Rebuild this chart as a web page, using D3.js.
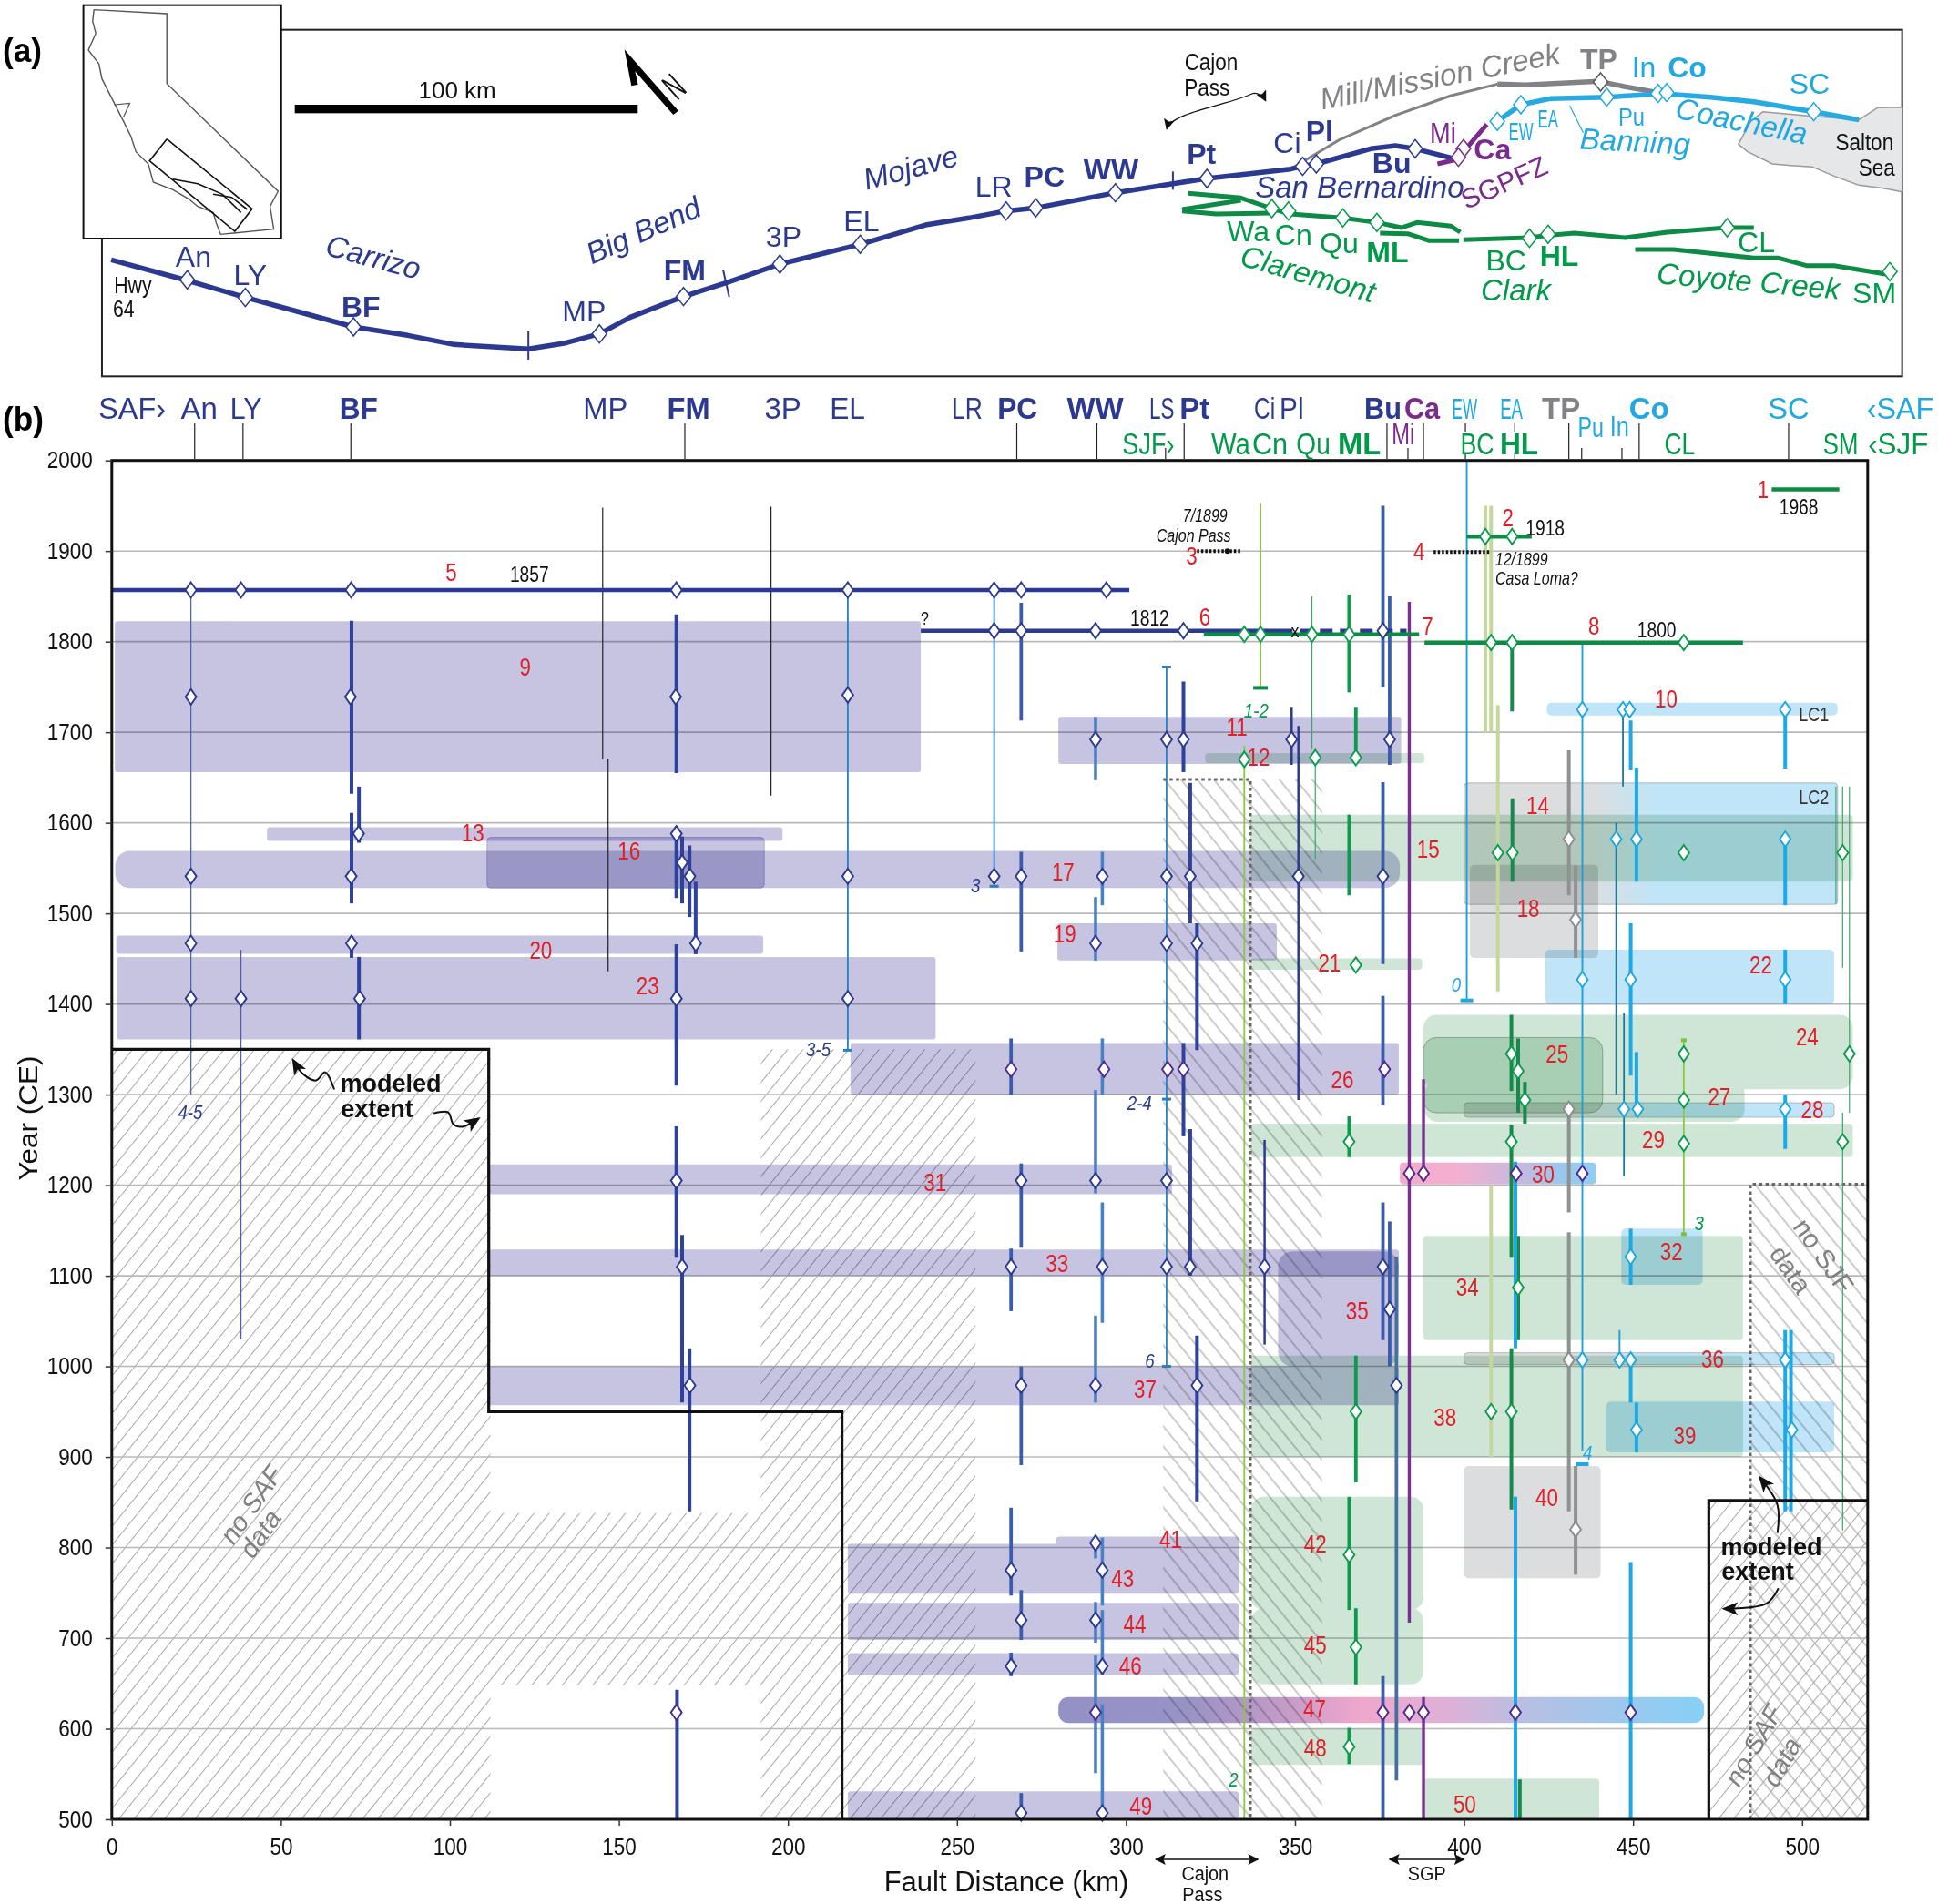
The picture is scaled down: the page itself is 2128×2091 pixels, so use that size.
<!DOCTYPE html>
<html><head><meta charset="utf-8">
<script src="https://cdnjs.cloudflare.com/ajax/libs/d3/7.8.5/d3.min.js"></script>
<style>html,body{margin:0;padding:0;background:#fff}svg{display:block}text{font-family:"Liberation Sans",Arial,sans-serif}</style>
</head><body><div id="c"></div>
<script>
// ---------- DATA (km along fault, calendar year) ----------
const yearTicks=[2000,1900,1800,1700,1600,1500,1400,1300,1200,1100,1000,900,800,700,600,500];
const kmTicks=[0,50,100,150,200,250,300,350,400,450,500];
// zones [kmStart, kmEnd, yearTop, yearBottom]
const safZones=[[0.9,239.3,1822.6,1656],[45.9,198.4,1595,1580],[1.3,192.7,1475.6,1455.5],[1.5,243.7,1452,1361],[218.5,380.7,1357,1300],[111.5,313.6,1223,1190],[111.5,380.7,1129,1100],[111.5,380.7,1000,957],[279.7,344.6,1489,1448],[280,381.4,1717,1665],[279.4,333.3,812,800],[217.7,333.3,804,749],[217.7,333.3,739,698],[217.7,333.3,683.5,659.5],[217.7,333.3,531,501]];
const safRounded=[[1,381,1569,1528],[345,380.7,1127,1000]];
const safBordered=[[111,193,1584,1528]];
const sjfZones=[[323.4,388.3,1677,1666],[336.8,515,1609,1535],[336.8,387.6,1450.4,1437.8],[337,515,1268,1231],[388,482.5,1144,1029],[337,482.5,1012,900],[337,388,600,560],[388,440,545,501]];
const sjfRounded=[[388,515,1388,1306],[388.3,483,1315,1270],[337,388,856,731],[337,388,733,649]];
const sjfBordered=[[388,441,1363,1280]];
const ssafZones=[[424.5,510.5,1732.5,1718.5],[424,509.5,1460,1400],[446.5,470.6,1152,1090],[442,509.5,961,905]];
const greyZones=[[401.7,439.7,1553.7,1451],[400,440.4,890,766]];
const greyBlueZones=[[400,510.5,1644,1510],[400,509.5,1291,1275],[400,509.5,1015,1002]];
const pinkBlueZone=[[381,439,1225,1201]];
const fullZone=[[280,471,635,606.4]];
const slashHatch=[[0,112,1350,500],[112,192,838,648],[192,255.5,1350,500],[472.4,519.4,852,500]];
const backHatch=[[311,358,1648,500],[484.7,519.4,1201,500]];
// vertical age ranges [km, yearTop, yearBottom]
const navyBars=[[70.9,1823,1632],[70.9,1611,1511],[73.1,1640,1578],[70.9,1475,1451],[73.1,1452,1361],[167,1830,1655],[167,1596,1517],[168.7,1585,1511],[170.9,1575,1496],[172.7,1535,1455],[167,1466,1310],[167,1265,1120],[168.7,1145,960],[170.9,1020,840],[167.2,643,500],[317,1756,1656],[319,1644,1489],[321,1489,1349],[317,1357,1254],[319,1262,1100],[321,1034,851]];
const midBars=[[269,1843,1713],[269,1568,1458],[266,1362,1300],[269,1224,1131],[266,1130,1061],[269,1000,891],[266,844,747],[269,753,698],[266,684,658],[269,529,500],[376,1950,1750],[378,1850,1664],[376,1645,1444],[376,1409,1288],[376,1181,1029],[378,1160,1000],[376,658,500]];
const slateBars=[[380,1121,543]];
const lightBars=[[291,1717,1647],[293,1568,1509],[291,1518,1448],[293,1362,1300],[291,1305,1191],[293,1181,1048],[291,1056,960],[291,813,788],[293,811,736],[291,740,695],[293,731,660],[291,681,551],[293,627,500]];
const thinNavy=[[349,1728,1664],[351,1707,1294],[341,1250,1024]];
const thinBlack=[[145.2,1948,1670],[146.8,1671,1436],[195,1949,1630]];
const hairNavy=[[23.4,1857,1300],[38.2,1460,1030]];
const thinBlue=[[217.7,1857,1349],[261,1857,1530],[312,1772,1000]];
const purpleBars=[[383.8,1844,717],[388,1317,1205],[388,635,500]];
const greenBars=[[366,1852,1744],[368,1728,1665],[366,1609,1520],[368,1450,1438],[366,1276,1231],[368,1012,872],[366,856,731],[368,733,649],[366,601,561]];
const darkGreenBars=[[414.2,1799,1723],[414.3,1627,1535],[414,1388,1304],[416,1362,1280],[418,1314,1268],[414,1267,1120],[416,1144,1029],[414,1020,842],[416.5,544,500]];
const oliveBars=[[406.3,1950,1700],[408,1950,1700],[410,1730,1414],[408,1200,900]];
const cyanBars=[[415.2,1226,1020],[415.2,856,500],[449.3,1713,1658],[451,1661,1535],[449.3,1489,1321],[451,1347,1276],[449.3,1152,1090],[449.3,1010,960],[451,960,905],[449.3,784,500],[495,1725,1660],[495,1582,1509],[495,1460,1400],[495,1300,1240],[495,1040,840],[496.7,1040,840]];
const thinCyan=[[400.8,2000,1404],[435,1799,907],[446,1040,1007]];
const thinTeal=[[445,1600,1300],[447,1725,1640],[447.3,1390,1210]];
const greyBars=[[431,1680,1520],[433,1553,1451],[431,1288,1170],[431,1148,840],[433,890,770]];
const limeBars=[[339.8,1953,1749],[335,1685,500],[465,1360,1146]];
const thinGreen=[[355,1850,1681],[356,1681,1560],[512,1640,1440],[514,1640,1280],[512,1280,819],[510,1640,1510]];
// T caps [km, year]
const navyCaps=[[217.7,1349],[261,1530],[312,1772],[312,1000],[312,1295]];
const greenCaps=[[339.8,1749]];
const cyanCaps=[[400.8,1404],[435,892]];
const limeCaps=[[465,1360],[465,1146]];
// ruptures [kmStart, kmEnd, year]
const navyRuptures=[[0,301,1857],[239.3,345.5,1812]];
const navyDashed=[[345.5,383,1812]];
const greenRuptures=[[323,386.7,1808],[388.3,482.5,1799],[400.8,420,1916],[491,511,1968]];
const dottedRuptures=[[321,334,1900],[391,408,1899]];
// site diamonds [km, year]
const navyPts=[[23.4,1857],[38.2,1857],[70.8,1857],[167,1857],[217.7,1857],[261,1857],[269,1857],[294.2,1857],[261,1812],[269,1812],[291,1812],[317,1812],[376,1812],[23.4,1739],[70.6,1739],[166.8,1739],[217.7,1741],[291,1692],[312,1692],[317,1692],[349,1692],[378,1692],[73,1588],[167,1588],[168.7,1556],[23.4,1541],[70.8,1541],[171,1541],[217.7,1541],[261,1541],[269,1541],[293,1541],[312,1541],[319,1541],[351,1541],[376,1541],[23.4,1467],[70.9,1467],[172.7,1467],[291,1467],[312,1467],[321,1467],[23.4,1406],[38.2,1406],[73.3,1406],[167,1406],[217.7,1406],[167,1205],[269,1205],[291,1205],[312,1205],[168.7,1110],[266,1110],[293,1110],[312,1110],[319,1110],[341,1110],[376,1110],[378,1063],[171,979],[269,979],[291,979],[321,979],[380,979],[291,805],[266,775],[293,775],[269,720],[291,720],[266,669],[293,669],[269,507],[293,507]];
const purplePts=[[266,1328],[293.5,1328],[312.3,1328],[317,1328],[376.5,1328],[383.8,1213],[388,1213],[415.4,1213],[435,1213],[167,618],[291,618],[376,618],[383.8,618],[388,618],[415.2,618],[449.3,618]];
const greenPts=[[406.3,1916],[414.2,1916],[335,1808],[339.8,1808],[355,1808],[366,1808],[408,1799],[414.2,1799],[465,1799],[335,1670],[356,1672],[368,1672],[410,1567],[414.3,1567],[465,1567],[512,1567],[368,1443],[414,1345],[465,1345],[514,1345],[416,1326],[418,1294],[465,1294],[366,1248],[414,1248],[465,1246],[512,1248],[416,1087],[368,950],[408,950],[414,950],[366,792],[368,690],[366,580]];
const cyanPts=[[435,1725],[447,1725],[449,1725],[495,1725],[445,1582],[451,1582],[495,1582],[435,1427],[449.3,1427],[495,1427],[447.3,1284],[451.4,1284],[495,1284],[449.3,1121],[435,1007],[446,1007],[449.3,1007],[495,1007],[451,930],[497,930]];
const greyPts=[[431,1582],[433,1493],[431,1284],[431,1007],[433,820]];
// numbered events [label, km, year]
const eventLabels=[["1",488.5,1968],["2",413,1937],["3",319.4,1895],["4",386.7,1900],["5",100.4,1877],["6",323.3,1828],["7",389.2,1818],["8",438.4,1818],["9",122.3,1772],["10",459.8,1737],["11",332.8,1706],["12",339.2,1673],["13",106.8,1589],["14",421.8,1620],["15",389.4,1571],["16",153,1569],["17",281.4,1546],["18",419,1506],["19",281.9,1478],["20",126.9,1460],["21",360.2,1446],["22",487.8,1444],["23",158.5,1421],["24",501.5,1364],["25",427.5,1345],["26",364,1317],["27",475.5,1298],["28",503,1284],["29",456,1251],["30",423.4,1212],["31",243.5,1203],["32",461.3,1127],["33",279.6,1114],["34",401,1088],["35",368.4,1062],["36",473.5,1008],["37",305.7,975],["38",394.4,944],["39",465.3,924],["40",424.5,856],["41",313.2,809],["42",356,804],["43",299,766],["44",302.6,716],["45",356,693],["46",301.3,670],["47",355.8,622],["48",356,579],["49",304.4,515],["50",400.2,517]];
const yearNotes=[["1857",123.5,1874],["1812",307,1826],["1800",457,1813],["1918",424,1926],["1968",499,1949]];
// site header [label, km, row, bold]
const headerNavy=[["SAF›",6,1,0],["An",25.8,1,0],["LY",39.7,1,0],["BF",73,1,1],["MP",146,1,0],["FM",170.6,1,1],["3P",198.5,1,0],["EL",217.6,1,0],["LR",253,1,0],["PC",267.9,1,1],["WW",290.9,1,1],["Pt",320.3,1,1],["Ci",341,1,0],["Pl",349,1,0],["Bu",376,1,1]];
const headerGreen=[["SJF›",306.6,2,0],["Wa",331,2,0],["Cn",342.6,2,0],["Qu",355.4,2,0],["ML",369,2,1],["BC",403.9,2,0],["HL",416.3,2,1],["CL",463.8,2,0],["SM",511.4,2,0],["‹SJF",528.4,2,0]];
const headerCyan=[["Co",454.7,1,1],["SC",496,1,0],["‹SAF",529,1,0]];
const siteTicks=[[24.5,0],[38.8,0],[70.7,0],[169.5,0],[267.7,0],[291.4,0],[311.7,1],[317.2,0],[377.2,0],[383.4,1],[388,0],[431,0],[434.8,1],[446.7,1],[451.8,0],[496,0]];
const brokenTicks=[400.4,415];
// map traces, in map units
const mapSaf=[[180,856],[303,924],[397,980],[470,1020],[572,1077],[660,1105],[735,1135],[855,1150],[915,1130],[970,1100],[1020,1045],[1106,977],[1175,932],[1262,870],[1392,805],[1500,740],[1568,718],[1628,695],[1676,685],[1805,635],[1898,605],[1953,588],[2088,557],[2108,548],[2130,540],[2218,490],[2258,480],[2290,490],[2348,520]];
const mapMillThin=[[2088,557],[2168,460],[2258,380],[2348,315],[2423,277]];
const mapMillThick=[[2423,277],[2468,280],[2588,268],[2628,285],[2683,305]];
const mapCoachella=[[2423,400],[2461,345],[2508,325],[2600,320],[2683,310],[2698,310],[2768,320],[2838,335],[2935,368],[3008,395]];
const mapSgp=[[2326,540],[2358,525],[2368,500],[2406,410]];
const mapClaremont=[[[1923,637],[2008,652],[2058,687],[2088,705],[2173,718],[2228,733],[2268,750],[2293,733],[2348,745],[2363,765]],[[1913,690],[2008,660]],[[1913,695],[1968,705],[2058,702]],[[2233,768],[2278,770],[2313,793],[2361,793]]];
const mapClark=[[2368,790],[2473,783],[2508,775],[2548,768],[2630,783],[2698,765],[2795,750],[2838,750]];
const mapCoyote=[[2646,822],[2708,822],[2838,850],[2878,850],[2923,875],[2968,875],[3058,905]];
const mapSea=[[2853,368],[2918,380],[3008,395],[3038,355],[3078,353],[3078,632],[3048,620],[3008,610],[2968,580],[2933,550],[2898,545],[2868,540],[2828,500],[2813,475],[2833,400]];
const mapCuts=[[[855,1092],[855,1185]],[[1170,888],[1180,978]],[[1898,565],[1898,625]]];
const mapSitesNavy=[[303,922],[397,980],[572,1077],[970,1100],[1106,977],[1262,870],[1392,805],[1628,695],[1676,685],[1805,635],[1953,588],[2108,548],[2130,540],[2290,490]];
const mapSitesPurple=[[2368,490],[2360,518]];
const mapSitesCyan=[[2423,400],[2461,345],[2600,320],[2683,308],[2697,305],[2935,368]];
const mapSitesGreen=[[2058,687],[2085,695],[2173,718],[2228,733],[2475,785],[2505,772],[2795,750],[3058,895]];
const mapSitesGrey=[[2590,270]];
const northArrow=[[1010.4,163],[1021.7,283],[1032.5,278],[1027.6,235],[1089.5,378],[1097.8,365]];
const insetCoast=[[152,32],[270,45],[270,275],[450,630],[437,680],[443,755],[357,772],[350,735],[345,700],[320,680],[305,655],[280,625],[248,600],[240,540],[220,500],[212,450],[200,400],[185,340],[165,260],[160,210],[143,165],[155,110],[150,70],[152,32]];
const insetBay=[[185,345],[210,340],[200,385]];
const insetBox=[[270,458],[408,688],[380,762],[242,530],[270,458]];
const insetFaults=[[[280,590],[320,605],[360,640],[390,700]],[[345,640],[375,650],[400,690]]];
// annotation arrows (km, year)
const arrowPaths=[[[65.8,1305.6],[63.1,1324.6],[60.4,1315.6],[56.6,1322.6],[53.7,1337.6]],[[95.2,1279.4],[99.5,1280.4],[101,1267.4],[103.5,1264.4],[108.4,1273.4]],[[492.7,816],[492.7,847],[487.6,877]],[[493,755],[489.4,738],[477,732.5]]];
// horizontal squeeze of each header label
const headerFit={"SAF›":.98,"LY":.92,"BF":.96,"MP":.99,"FM":.99,"EL":.96,"PC":.96,"Ci":.74,"Pl":.9,"Bu":.93,"Wa":.89,"Cn":.93,"Qu":.85,"ML":.99,"BC":.81,"HL":.96,"CL":.8,"SM":.78,"‹SJF":.95,"‹SAF":.98,"SC":.99,"SJF›":.82,"LR":.8};

// ---------- SCALES ----------
const W=2128,H=2091;
const x=d3.scaleLinear().domain([0,519.4]).range([122.8,2050.8]);
const y=d3.scaleLinear().domain([500,2000]).range([1998,505.7]);
const mx=d3.scaleLinear().domain([0,3136]).range([0,2128]);
const my=d3.scaleLinear().domain([0,1560]).range([0,520]);
const NAVY="#2b3990",GREEN="#009a49",CYAN="#1fa8e2",PURPLE="#7b2a8d",GREY="#808285",RED="#e01f26";

const svg=d3.select("#c").append("svg").attr("width",W).attr("height",H).attr("viewBox",[0,0,W,H]);
svg.append("rect").attr("width",W).attr("height",H).attr("fill","#fff");
const defs=svg.append("defs");
function hatch(id,ang,sp,c,w){const p=defs.append("pattern").attr("id",id).attr("patternUnits","userSpaceOnUse").attr("width",sp).attr("height",sp).attr("patternTransform",`rotate(${ang})`);
 p.append("line").attr("x1",sp/2).attr("x2",sp/2).attr("y1",0).attr("y2",sp).attr("stroke",c).attr("stroke-width",w);}
hatch("hs",39,13,"#a8a8a8",1);hatch("hb",-39,14,"#a2a2a2",1.1);
function grad(id,stops){const g=defs.append("linearGradient").attr("id",id);stops.forEach(s=>g.append("stop").attr("offset",s[0]).attr("stop-color",s[1]));}
grad("gb",[[0,"#dcddde"],[.33,"#dcddde"],[.52,"#c0e5f9"],[1,"#c0e5f9"]]);
grad("pb",[[0,"#f6a9cc"],[.3,"#f3b0d0"],[.62,"#c5b9de"],[.8,"#9cc7ec"],[1,"#93cdf2"]]);
grad("full",[[0,"#9491c6"],[.2,"#9893c5"],[.36,"#c79cc8"],[.47,"#efa8cc"],[.6,"#dfb0d6"],[.72,"#b8bfe2"],[1,"#86d0f6"]]);
const mk=defs.append("marker").attr("id","ah").attr("viewBox","0 0 12 10").attr("refX",10).attr("refY",5).attr("markerWidth",18).attr("markerHeight",16).attr("markerUnits","userSpaceOnUse").attr("orient","auto");
mk.append("path").attr("d","M0,0L12,5L0,10L3,5Z").attr("fill","#111");
const mk2=defs.append("marker").attr("id","dh").attr("viewBox","0 0 10 10").attr("refX",9).attr("refY",5).attr("markerWidth",12).attr("markerHeight",12).attr("markerUnits","userSpaceOnUse").attr("orient","auto-start-reverse");
mk2.append("path").attr("d","M0,0L10,5L0,10L2,5Z").attr("fill","#111");

function txt(g,s,px,py,o={}){
 const t=g.append("text").text(s).attr("text-anchor",o.anchor||"middle").attr("font-size",o.size||32).attr("fill",o.fill||"#111")
  .attr("transform",`translate(${px},${py}) rotate(${o.rot||0}) scale(${o.sx||1},1)`);
 if(o.bold)t.attr("font-weight","bold");if(o.italic)t.attr("font-style","italic");if(o.mid)t.attr("dy",".35em");return t;}

// ---------- MAP PANEL ----------
const gm=svg.append("g");
const ml=d3.line().x(d=>mx(d[0])).y(d=>my(d[1]));
gm.append("rect").attr("x",mx(165)).attr("y",my(98)).attr("width",mx(3078)-mx(165)).attr("height",my(1240)-my(98)).attr("fill","#fff").attr("stroke","#222").attr("stroke-width",2);
gm.append("path").attr("d",ml(mapSea)+"Z").attr("fill","#e6e7e8").attr("stroke","#9a9a9a").attr("stroke-width",1.5).attr("stroke-linejoin","round");
function trace(d,c,w){gm.append("path").attr("d",ml(d)).attr("fill","none").attr("stroke",c).attr("stroke-width",w).attr("stroke-linejoin","round");}
trace(mapMillThin,GREY,3);trace(mapMillThick,GREY,5.5);trace(mapSaf,NAVY,5.5);
mapCuts.forEach(d=>trace(d,NAVY,2));
trace(mapCoachella,"#27aae1",5.5);trace(mapSgp,PURPLE,5);
mapClaremont.forEach(d=>trace(d,"#0d8b45",5));trace(mapClark,"#0d8b45",5);trace(mapCoyote,"#0d8b45",5);
function mapDiamonds(d,c){gm.selectAll(null).data(d).join("path").attr("d","M0,-10L8,0L0,10L-8,0Z").attr("transform",p=>`translate(${mx(p[0])},${my(p[1])})`).attr("fill","#fff").attr("stroke",c).attr("stroke-width",1.5);}
mapDiamonds(mapSitesNavy,NAVY);mapDiamonds(mapSitesPurple,PURPLE);mapDiamonds(mapSitesCyan,CYAN);mapDiamonds(mapSitesGreen,GREEN);mapDiamonds(mapSitesGrey,"#555");
gm.append("path").attr("d",ml([[2540,348],[2562,437]])).attr("stroke",CYAN).attr("stroke-width",1.2);
const IT=33;
const mapText=[
["An",313,880,NAVY],["LY",405,940,NAVY],["BF",584,1045,NAVY,{bold:1}],["MP",945,1058,NAVY],["FM",1108,925,NAVY,{bold:1}],["3P",1268,812,NAVY],["EL",1394,762,NAVY],
["Carrizo",600,880,NAVY,{italic:1,rot:15,size:IT}],["Big Bend",1048,790,NAVY,{italic:1,rot:-24,size:IT}],["Mojave",1478,585,NAVY,{italic:1,rot:-15,size:IT}],
["Hwy",215,965,"#111",{size:25,sx:.85}],["64",200,1045,"#111",{size:25,sx:.85}],
["LR",1608,648,NAVY],["PC",1690,615,NAVY,{bold:1}],["WW",1798,590,NAVY,{bold:1}],["Pt",1944,540,NAVY,{bold:1}],["Ci",2083,505,NAVY],["Pl",2135,465,NAVY,{bold:1}],["Bu",2252,570,NAVY,{bold:1}],
["San Bernardino",2200,650,NAVY,{italic:1,size:IT}],
["Mi",2335,470,PURPLE,{sx:.85}],["Ca",2415,525,PURPLE,{bold:1}],["SGPFZ",2440,630,PURPLE,{rot:-24,size:30}],
["Mill/Mission Creek",2333,285,GREY,{italic:1,rot:-11,size:IT}],["TP",2587,228,GREY,{bold:1}],
["In",2660,255,CYAN],["Co",2730,255,CYAN,{bold:1}],["SC",2928,308,CYAN],["Coachella",2815,432,CYAN,{italic:1,rot:11.5,size:IT}],["Banning",2645,500,CYAN,{italic:1,rot:3,size:IT}],["Pu",2640,415,CYAN,{size:28,sx:.85}],["EW",2461,462,CYAN,{size:28,sx:.6}],["EA",2505,420,CYAN,{size:28,sx:.6}],
["Wa",2020,795,GREEN],["Cn",2093,808,GREEN],["Qu",2167,835,GREEN],["ML",2245,865,GREEN,{bold:1}],["Claremont",2112,935,GREEN,{italic:1,rot:16,size:IT}],
["BC",2437,890,GREEN],["HL",2523,875,GREEN,{bold:1}],["Clark",2453,990,GREEN,{italic:1,size:IT}],["CL",2842,830,GREEN],["Coyote Creek",2828,960,GREEN,{italic:1,rot:5,size:IT}],["SM",3033,1000,GREEN],
["Salton",3017,495,"#111",{size:25,sx:.9}],["Sea",3037,578,"#111",{size:25,sx:.9}],["Cajon",1960,232,"#111",{size:25,sx:.9}],["Pass",1953,315,"#111",{size:25,sx:.9}]];
mapText.forEach(r=>txt(gm,r[0],mx(r[1]),my(r[2]),Object.assign({fill:r[3]},r[4]||{})));
gm.append("path").attr("d",`M${mx(1888)},${my(425)}C${mx(1895)},${my(370)} ${mx(1990)},${my(345)} ${mx(2025)},${my(310)}C${mx(2035)},${my(300)} ${mx(2045)},${my(320)} ${mx(2048)},${my(332)}`).attr("fill","none").attr("stroke","#111").attr("stroke-width",1.2).attr("marker-start","url(#dh)").attr("marker-end","url(#dh)");
// scale bar and north arrow
gm.append("rect").attr("x",mx(477)).attr("y",my(345)).attr("width",mx(1032)-mx(477)).attr("height",my(373)-my(345)).attr("fill","#000");
txt(gm,"100 km",mx(740),my(325),{size:26});
gm.append("path").attr("d",ml(northArrow)+"Z").attr("fill","#000");
txt(gm,"N",740,95,{size:41,rot:-42,sx:.55,fill:"#111",mid:1});
// inset
gm.append("rect").attr("x",mx(135)).attr("y",my(17)).attr("width",mx(455)-mx(135)).attr("height",my(786)-my(17)).attr("fill","#fff").attr("stroke","#111").attr("stroke-width",2);
gm.append("path").attr("d",ml(insetCoast)).attr("fill","none").attr("stroke","#555").attr("stroke-width",1.4);
gm.append("path").attr("d",ml(insetBay)).attr("fill","none").attr("stroke","#555").attr("stroke-width",1.2);
gm.append("path").attr("d",ml(insetBox)).attr("fill","none").attr("stroke","#111").attr("stroke-width",1.6);
insetFaults.forEach(d=>gm.append("path").attr("d",ml(d)).attr("fill","none").attr("stroke","#111").attr("stroke-width",1.6));
txt(svg,"(a)",3,68,{anchor:"start",size:37,bold:1,sx:.95,fill:"#000"});
txt(svg,"(b)",3,473,{anchor:"start",size:37,bold:1,sx:.95,fill:"#000"});

// ---------- TIMELINE PANEL ----------
const g=svg.append("g");
function hatchZones(d,id){g.selectAll(null).data(d).join("rect").attr("x",r=>x(r[0])).attr("width",r=>x(r[1])-x(r[0])).attr("y",r=>y(r[2])).attr("height",r=>y(r[3])-y(r[2])).attr("fill",`url(#${id})`);}
hatchZones(slashHatch,"hs");hatchZones(backHatch,"hb");
// grid
g.append("g").selectAll("line").data(yearTicks.slice(1,-1)).join("line").attr("x1",x(0)).attr("x2",x(519.4)).attr("y1",d=>y(d)).attr("y2",d=>y(d)).attr("stroke","#b8b8b8").attr("stroke-width",1.6);
function zones(d,fill,rx,stroke){g.append("g").style("mix-blend-mode","multiply").selectAll("rect").data(d).join("rect").attr("x",r=>x(r[0])).attr("width",r=>x(r[1])-x(r[0])).attr("y",r=>y(r[2])).attr("height",r=>y(r[3])-y(r[2])).attr("rx",rx).attr("fill",fill).attr("stroke",stroke||"none").attr("stroke-opacity",.6);}
const P="#c6c4e1",G="#cfe6d6",B="#c0e5f9",Y="#dcddde";
zones(safZones,P,3);zones(safRounded,P,16);zones(safBordered,P,4,"#8f8cbc");
zones(sjfZones,G,4);zones(sjfRounded,G,14);zones(sjfBordered,G,14,"#6f8f7c");
zones(ssafZones,B,5);zones(greyZones,Y,5);zones(greyBlueZones,"url(#gb)",4,"#8d9498");
zones(pinkBlueZone,"url(#pb)",4);zones(fullZone,"url(#full)",11);
// dotted limits
const dl=d3.line().x(d=>x(d[0])).y(d=>y(d[1]));
[[[311,1648],[336.8,1648],[336.8,500]],[[484.7,500],[484.7,1201],[519.4,1201]]].forEach(d=>g.append("path").attr("d",dl(d)).attr("fill","none").attr("stroke","#666").attr("stroke-width",3).attr("stroke-dasharray","3.5 3.5"));
// vertical bars
function bars(d,c,w){g.append("g").selectAll("line").data(d).join("line").attr("x1",r=>x(r[0])).attr("x2",r=>x(r[0])).attr("y1",r=>y(r[1])).attr("y2",r=>y(r[2])).attr("stroke",c).attr("stroke-width",w);}
bars(hairNavy,"#4a5fae",1.2);bars(thinBlack,"#222",1.2);bars(thinBlue,"#2a7ec2",1.8);bars(thinGreen,"#3aa76d",1.2);bars(limeBars,"#8dc63f",1.8);
bars(oliveBars,"#c4d79c",4);bars(thinTeal,"#167a9c",1.8);bars(thinCyan,"#1e9fd8",1.9);bars(thinNavy,"#2b3990",2.5);
bars(greyBars,"#8f9193",4);bars(darkGreenBars,"#17894c",4);bars(greenBars,"#0b9b4c",3.8);bars(cyanBars,"#1ca9e6",4);
bars(navyBars,"#2f429b",4);bars(midBars,"#3a5cab",3.8);bars(lightBars,"#4a80c4",3.6);bars(slateBars,"#44709f",3.8);bars(purpleBars,"#7a2f93",3.4);
function caps(d,c,w,h){g.append("g").selectAll("line").data(d).join("line").attr("x1",r=>x(r[0])-w/2).attr("x2",r=>x(r[0])+w/2).attr("y1",r=>y(r[1])).attr("y2",r=>y(r[1])).attr("stroke",c).attr("stroke-width",h);}
caps(navyCaps,"#2a7ec2",10,3);caps(greenCaps,"#0b8b45",16,4);caps(cyanCaps,"#1fa8e2",14,4);caps(limeCaps,"#7ac143",6,4);
// ruptures
function rup(d,c,w,dash){g.append("g").selectAll("line").data(d).join("line").attr("x1",r=>x(r[0])).attr("x2",r=>x(r[1])).attr("y1",r=>y(r[2])).attr("y2",r=>y(r[2])).attr("stroke",c).attr("stroke-width",w).attr("stroke-dasharray",dash||null);}
rup(navyDashed,NAVY,4.5,"14 8");rup(navyRuptures,NAVY,4.5);rup(greenRuptures,"#0d8b45",4.5);rup(dottedRuptures,"#111",4,"2.5 2");
g.append("circle").attr("cx",x(330)).attr("cy",y(1900)).attr("r",3).attr("fill","#111");
txt(g,"x",x(350),y(1812),{size:20,mid:1,sx:.9});
// diamonds
function pts(d,c){g.append("g").selectAll("path").data(d).join("path").attr("d","M0,-8.5L6,0L0,8.5L-6,0Z").attr("transform",p=>`translate(${x(p[0])},${y(p[1])})`).attr("fill","#fff").attr("stroke",c).attr("stroke-width",1.9);}
pts(greyPts,"#8a8c8e");pts(cyanPts,"#1ca7e0");pts(greenPts,"#0b9b4c");pts(navyPts,NAVY);pts(purplePts,"#4f2a8c");
// step outlines and frame
const stepL=[[0,1350],[111.5,1350],[111.5,950],[216,950],[216,500]];
g.append("path").attr("d",dl(stepL)).attr("fill","none").attr("stroke","#111").attr("stroke-width",3.2);
g.append("path").attr("d",dl([[472.4,500],[472.4,852],[519.4,852]])).attr("fill","none").attr("stroke","#111").attr("stroke-width",3.2);
g.append("rect").attr("x",x(0)).attr("y",y(2000)).attr("width",x(519.4)-x(0)).attr("height",y(500)-y(2000)).attr("fill","none").attr("stroke","#111").attr("stroke-width",3);
// axes
const ax=g.append("g").attr("transform",`translate(0,${y(500)})`).call(d3.axisBottom(x).tickValues(kmTicks).tickSize(7).tickPadding(14).tickFormat(d3.format("d")));
const ay=g.append("g").attr("transform",`translate(${x(0)},0)`).call(d3.axisLeft(y).tickValues(yearTicks).tickSize(7).tickPadding(14).tickFormat(d3.format("d")));
[ax,ay].forEach(a=>{a.select(".domain").remove();a.selectAll("line").attr("stroke","#333").attr("stroke-width",1.5);a.selectAll("text").attr("font-size",25).attr("fill","#111").attr("font-family","Liberation Sans").attr("transform","scale(.9,1)");});
ay.selectAll("text").attr("x",-21/.9);
txt(g,"Year (CE)",41,1228,{size:30,rot:-90,sx:1.05});
txt(g,"Fault Distance (km)",1105,2077,{size:31});
// bottom arrows
function dbl(a,b){g.append("line").attr("x1",x(a)).attr("x2",x(b)).attr("y1",2042).attr("y2",2042).attr("stroke","#111").attr("stroke-width",1.5).attr("marker-start","url(#dh)").attr("marker-end","url(#dh)");}
dbl(308.8,339);dbl(378,400);
txt(g,"Cajon",x(323.4),2065,{size:22,sx:.9});txt(g,"Pass",x(322.6),2088,{size:22,sx:.9});txt(g,"SGP",x(389),2065,{size:22,sx:.9});
// header ticks and labels
const hTop=465,hBot=504;
siteTicks.forEach(t=>g.append("line").attr("x1",x(t[0])).attr("x2",x(t[0])).attr("y1",t[1]?492:hTop).attr("y2",hBot).attr("stroke","#222").attr("stroke-width",1.2));
brokenTicks.forEach(k=>{[[465,474],[497,504]].forEach(s=>g.append("line").attr("x1",x(k)).attr("x2",x(k)).attr("y1",s[0]).attr("y2",s[1]).attr("stroke","#222").attr("stroke-width",1.2));});
const rowY={1:460,2:499};
function header(d,c){d.forEach(r=>txt(g,r[0],x(r[1]),rowY[r[2]],{fill:c,bold:r[3],size:33,sx:headerFit[r[0]]||1}));}
header(headerNavy,NAVY);header(headerGreen,GREEN);header(headerCyan,CYAN);
txt(g,"LS",x(310.6),460,{fill:NAVY,size:33,sx:.68});
txt(g,"Ca",x(387.6),460,{fill:PURPLE,size:33,bold:1,sx:.93});
txt(g,"Mi",x(382),488,{fill:PURPLE,size:33,sx:.72});
txt(g,"EW",x(400.2),460,{fill:CYAN,size:31,sx:.55});txt(g,"EA",x(414),460,{fill:CYAN,size:31,sx:.6});
txt(g,"TP",x(428.7),460,{fill:GREY,size:33,bold:1});
txt(g,"Pu",x(437.5),480,{fill:CYAN,size:31,sx:.75});txt(g,"In",x(446),479,{fill:CYAN,size:31,sx:.82});
// event labels
eventLabels.forEach(r=>txt(g,r[0],x(r[1]),y(r[2]),{fill:RED,size:28,sx:.8,mid:1}));
yearNotes.forEach(r=>txt(g,r[0],x(r[1]),y(r[2]),{size:24,sx:.8,mid:1}));
txt(g,"?",x(240.5),y(1826),{size:20,sx:.8,mid:1});
[["7/1899",323.4,1939],["Cajon Pass",320,1917],["12/1899",417,1891],["Casa Loma?",421.5,1870]].forEach(r=>txt(g,r[0],x(r[1]),y(r[2]),{size:20,sx:.8,italic:1,mid:1}));
txt(g,"LC1",x(503.5),y(1720),{size:22,sx:.82,mid:1,fill:"#333"});txt(g,"LC2",x(503.5),y(1628),{size:22,sx:.82,mid:1,fill:"#333"});
[["4-5",23.2,1281,NAVY,1],["3-5",209,1350,NAVY,1],["3",255.5,1531,NAVY,1],["2-4",304,1291,NAVY,1],["6",307,1006,NAVY,1],["1-2",338.5,1724,GREEN,1],["0",397.7,1421,CYAN,1],["3",469.5,1158,GREEN,1],["4",436.5,905,CYAN,1],["2",331.8,544,GREEN,1]].forEach(r=>txt(g,r[0],x(r[1]),y(r[2]),{fill:r[3],italic:r[4],size:22,sx:.85,mid:1}));
const L=[["modeled",429,1199],["extent",414,1227],["modeled",1945,1708],["extent",1930,1735]];
L.forEach(r=>txt(g,r[0],r[1],r[2],{size:27,bold:1,fill:"#111"}));
const al=d3.line().x(d=>x(d[0])).y(d=>y(d[1])).curve(d3.curveCatmullRom);
arrowPaths.forEach(d=>g.append("path").attr("d",al(d)).attr("fill","none").attr("stroke","#111").attr("stroke-width",2).attr("marker-end","url(#ah)"));
const nd={size:29,italic:1,fill:"#808080"};
txt(g,"no SAF",284,1658,Object.assign({rot:-55},nd));txt(g,"data",294,1690,Object.assign({rot:-55},nd));
txt(g,"no SJF",1994,1385,{rot:55,size:29,fill:"#808080"});txt(g,"data",1958,1400,{rot:55,size:29,fill:"#808080"});
txt(g,"no SAF",1934,1922,Object.assign({rot:-60},nd));txt(g,"data",1965,1940,Object.assign({rot:-60},nd));
</script></body></html>
